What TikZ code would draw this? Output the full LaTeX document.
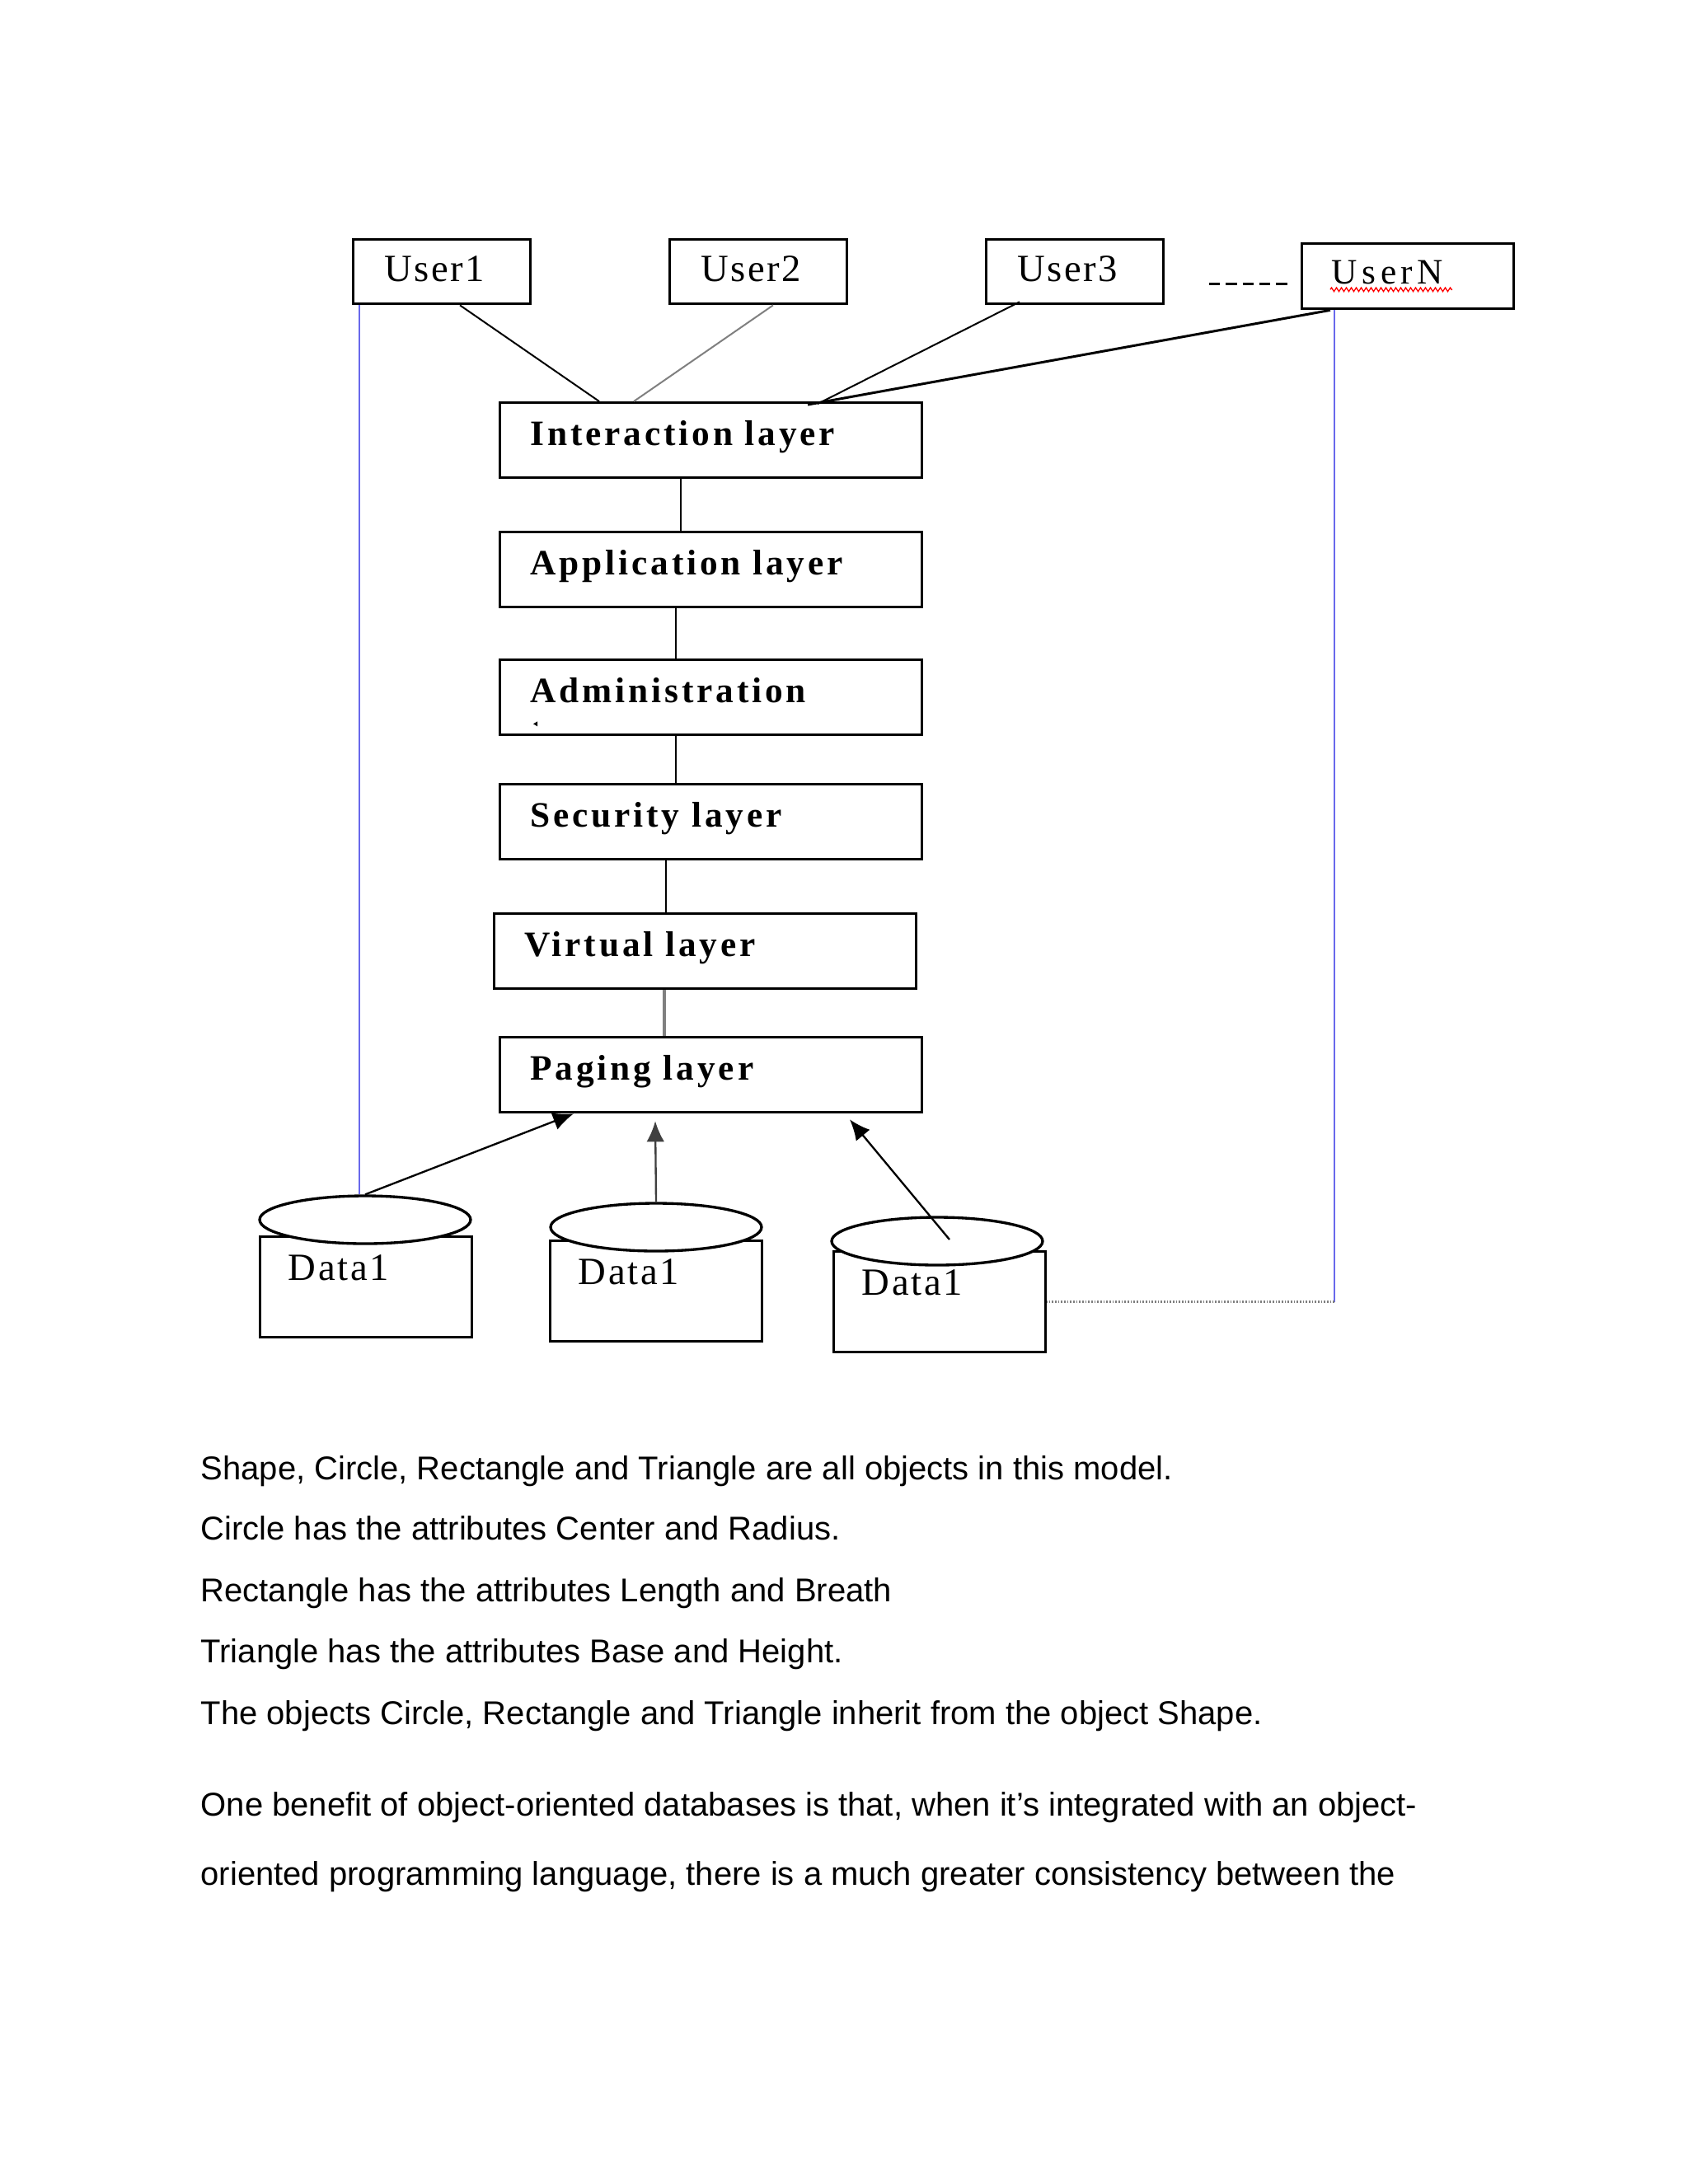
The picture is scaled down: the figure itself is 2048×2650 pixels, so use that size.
\documentclass[tikz,border=0pt]{standalone}
\usepackage{fontspec}
\setmainfont{Liberation Serif}
\newfontfamily\bodyfont{Liberation Sans}
\usetikzlibrary{calc,shapes.geometric,arrows.meta,decorations.pathmorphing}

\definecolor{lineblue}{RGB}{105,105,235}

\tikzset{
  userbox/.style={draw, line width=1pt, inner xsep=11.4pt, inner ysep=0pt,
    text width=41.7pt, align=left, text height=15.3pt, text depth=8.1pt,
    font=\fontsize{14}{15}\selectfont\addfontfeatures{LetterSpace=5}},
  layerbox/.style={draw, line width=1pt, inner xsep=11pt, inner ysep=0pt,
    text width=131.6pt, align=left, text height=15.5pt, text depth=11.8pt,
    font=\bfseries\fontsize{13}{15}\selectfont\addfontfeatures{LetterSpace=9}},
  dbbody/.style={draw, line width=1pt, inner xsep=10.2pt, inner ysep=0pt,
    text width=56.7pt, align=left, text height=15.8pt, text depth=20.8pt,
    font=\fontsize{14}{15}\selectfont\addfontfeatures{LetterSpace=6}},
  dbtop/.style={ellipse, draw, fill=white, line width=1pt, inner sep=0pt,
    minimum width=76.8pt, minimum height=17.4pt},
  wire/.style={line width=0.6pt},
  feed/.style={line width=0.7pt, -{Latex[length=7.5pt,width=6.5pt]}},
  blueline/.style={lineblue, line width=0.6pt},
  dotline/.style={gray, line width=0.8pt, dash pattern=on 0.5pt off 0.6pt},
  para/.style={anchor=base west, inner sep=0pt,
    font=\bodyfont\fontsize{12}{14}\selectfont}
}

\begin{document}
\begin{tikzpicture}[x=0.3pt, y=-0.3pt]
  \fill[white] (0,0) rectangle (2048,2650);
  \useasboundingbox (0,0) rectangle (2048,2650);

  % users
  \node[userbox, anchor=north west] (user1) at (427,289) {User1};
  \node[userbox, anchor=north west] (user2) at (811,289) {User2};
  \node[userbox, anchor=north west] (user3) at (1195,289) {User3};
  \node[userbox, anchor=north west, inner xsep=10.8pt, text width=55.5pt,
        text height=14.7pt, text depth=9pt,
        font=\fontsize{13}{14}\selectfont\addfontfeatures{LetterSpace=13}]
        (userN) at (1578,294) {UserN};
  \draw[red, line width=0.4pt, decorate,
        decoration={zigzag, segment length=1.8pt, amplitude=0.7pt}]
        ($(userN.south west)+(36,-25)$) -- ($(userN.south west)+(184,-25)$);
  \draw[line width=0.9pt, dash pattern=on 4pt off 2.1pt]
        ($(userN.west)+(-111,9)$) -- ($(userN.west)+(-11,9)$);

  % layers
  \node[layerbox, anchor=north west] (inter) at (605,487) {Interaction layer};
  \node[layerbox, anchor=north west] (app) at (605,644) {Application layer};
  \node[layerbox, anchor=north west] (admin) at (605,799) {Administration};
  \node[layerbox, anchor=north west] (secu) at (605,950) {Security layer};
  \node[layerbox, anchor=north west] (virt) at (598,1107) {Virtual layer};
  \node[layerbox, anchor=north west] (paging) at (605,1257) {Paging layer};
  \fill ($(admin.south west)+(42,-15)$) -- ++(5,-3) -- ++(0,6) -- cycle;

  % databases
  \node[dbbody, anchor=north west] (db1) at (314,1499) {Data1};
  \node[dbbody, anchor=north west] (db2) at (666,1504) {Data1};
  \node[dbbody, anchor=north west] (db3) at (1010,1517) {Data1};
  \node[dbtop] (db1top) at (443,1480) {};
  \node[dbtop] (db2top) at (796,1489) {};
  \node[dbtop] (db3top) at (1137,1506) {};

  % users to interaction layer
  \draw[wire] ($(user1.south west)+(131,0)$) -- ($(inter.north west)+(122,0)$);
  \draw[wire, gray] ($(user2.south west)+(127,0)$) -- ($(inter.north west)+(164,0)$);
  \draw[wire] ($(user3.south west)+(42,-4)$) -- ($(inter.north west)+(387,3)$);
  \draw[wire, line width=0.9pt] ($(userN.south west)+(36,0)$) -- ($(inter.north west)+(375,4)$);

  % layer stack
  \foreach \up/\down/\dx in {inter/app/221, app/admin/215, admin/secu/215, secu/virt/203}
    \draw[wire] ($(\up.south west)+(\dx,0)$) coordinate (c) -- (c |- \down.north);
  \draw[wire, gray, line width=1.1pt] ($(virt.south west)+(208,0)$) coordinate (c) -- (c |- paging.north);

  % data to paging layer
  \draw[feed] (db1top.north) -- ($(paging.south west)+(91,0)$);
  \draw[feed, darkgray] (db2top.north) -- ($(paging.south west)+(190,9)$);
  \draw[feed] ($(db3top.center)+(15,-2)$) -- ($(paging.south west)+(426,7)$);

  % side lines
  \draw[blueline] ($(user1.south west)+(9,0)$) coordinate (b1) -- (b1 |- db1top.north);
  \draw[blueline] ($(userN.south west)+(41,0)$) coordinate (bN) -- (bN |- db3.east) coordinate (bEnd);
  \draw[dotline] (bEnd) -- (db3.east);

  % text below
  \node[para] (l1) at (243,1795) {Shape, Circle, Rectangle and Triangle are all objects in this model.};
  \node[para] (l2) at (243,1868) {Circle has the attributes Center and Radius.};
  \node[para] (l3) at (243,1943) {Rectangle has the attributes Length and Breath};
  \node[para] (l4) at (243,2017) {Triangle has the attributes Base and Height.};
  \node[para] (l5) at (243,2092) {The objects Circle, Rectangle and Triangle inherit from the object Shape.};
  \node[para] (l6) at (243,2203) {One benefit of object-oriented databases is that, when it’s integrated with an object-};
  \node[para] (l7) at (243,2287) {oriented programming language, there is a much greater consistency between the};
\end{tikzpicture}
\end{document}
